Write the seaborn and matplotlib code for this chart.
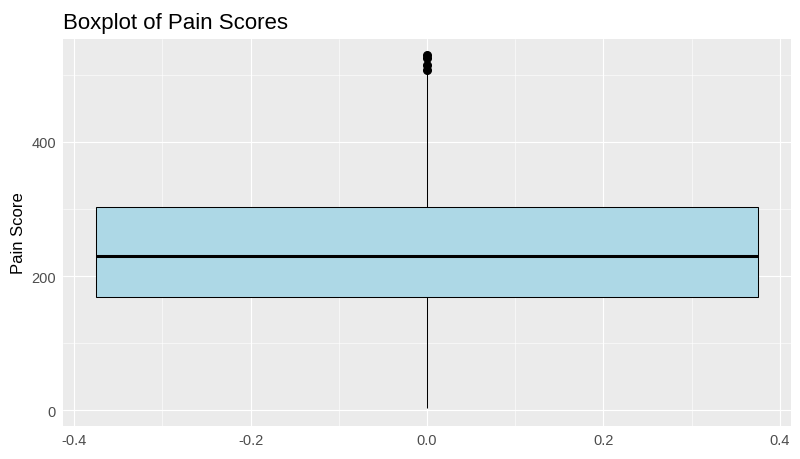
import numpy as np
import pandas as pd
import matplotlib
matplotlib.use("Agg")
import matplotlib.pyplot as plt
from matplotlib.ticker import MultipleLocator
import seaborn as sns

# Pain scores (quartiles ~169 / 230 / 303, four high outliers)
pain_scores = [3, 45, 85, 115, 140, 158, 168.7, 180, 192, 203, 212, 221, 229.9,
               240, 252, 265, 278, 292, 303, 360, 502, 507, 514, 525, 529]
x_ticks = [-0.4, -0.2, 0.0, 0.2, 0.4]
x_tick_labels = ["-0.4", "-0.2", "0.0", "0.2", "0.4"]
y_ticks = [0, 200, 400]

df = pd.DataFrame({"pain_score": pain_scores})

sns.set_theme(style="darkgrid", rc={
    "axes.facecolor": "#EBEBEB",
    "grid.color": "white",
    "axes.edgecolor": "#EBEBEB",
})
plt.rcParams["font.family"] = ["Liberation Sans", "DejaVu Sans"]

fig, ax = plt.subplots(figsize=(8, 4.6), dpi=100)
fig.subplots_adjust(left=63 / 800, right=791 / 800, top=1 - 40 / 460, bottom=1 - 427 / 460)

sns.boxplot(data=df, y="pain_score", width=0.75, color="#ADD8E6",
            linecolor="black", linewidth=0.75, showcaps=False,
            boxprops=dict(facecolor="#ADD8E6", edgecolor="black", linewidth=0.75),
            medianprops=dict(color="black", linewidth=2.2),
            whiskerprops=dict(color="black", linewidth=0.75),
            flierprops=dict(marker="o", markerfacecolor="black",
                            markeredgecolor="black", markersize=5.5),
            ax=ax)

ax.set_xlim(-0.4125, 0.4125)
ax.set_ylim(-23.2, 553.2)
ax.set_xticks(x_ticks)
ax.set_xticklabels(x_tick_labels)
ax.set_yticks(y_ticks)
ax.xaxis.set_minor_locator(MultipleLocator(0.1))
ax.yaxis.set_minor_locator(MultipleLocator(100))
ax.grid(which="major", color="white", linewidth=0.8)
ax.grid(which="minor", color="white", linewidth=0.4)
ax.set_axisbelow(True)
for s in ax.spines.values():
    s.set_visible(False)

ax.tick_params(axis="both", which="major", length=3, width=0.8, color="#333333",
               labelsize=10.5, labelcolor="#4D4D4D", pad=2)
ax.tick_params(axis="both", which="minor", length=0)
ax.set_xlabel("")
ax.set_ylabel("Pain Score", fontsize=12, color="black", labelpad=4)
ax.set_title("Boxplot of Pain Scores", fontsize=16, loc="left", pad=8, color="black")

fig.savefig("out.png", dpi=100)
